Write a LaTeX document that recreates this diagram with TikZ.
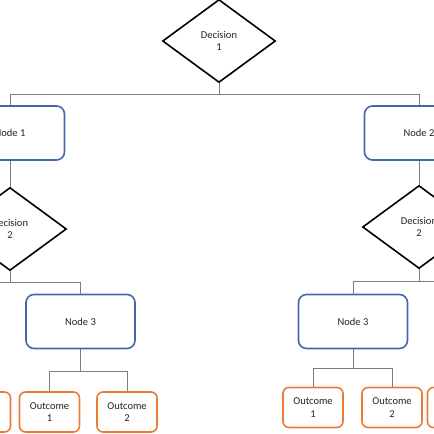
\documentclass[tikz,border=0pt]{standalone}
\usepackage{fontspec}
\setmainfont{Carlito}
\usetikzlibrary{shapes.geometric}
\definecolor{nodeblue}{RGB}{70,102,172}
\definecolor{outorange}{RGB}{233,124,52}
\definecolor{linkgray}{RGB}{125,125,125}
\definecolor{textdark}{RGB}{35,35,35}
\tikzset{
every node/.style={font=\fontsize{10.5}{12.5}\selectfont, text=textdark, align=center, inner sep=0pt},
decision/.style={diamond, draw=black, line width=1.6pt, minimum width=113pt, minimum height=83pt},
block/.style={rectangle, rounded corners=8pt, draw=nodeblue, line width=1.6pt, minimum width=109pt, minimum height=54pt},
outcome/.style={rectangle, rounded corners=6pt, draw=outorange, line width=1.6pt, minimum width=60pt, minimum height=40pt},
link/.style={draw=linkgray, line width=0.8pt}
}

\begin{document}
\begin{tikzpicture}[x=1pt,y=-1pt]
\useasboundingbox (0,0) rectangle (434,434);
\clip (0,0) rectangle (434,434);

\node [decision] (D1) at (219,41) {Decision\\1};
\node [block] (N1) at (10,133) {Node 1};
\node [block] (N2) at (419,133) {Node 2};
\node [decision] (D2L) at (10,229) {Decision\\2};
\node [decision] (D2R) at (419,227) {Decision\\2};
\node [block] (N3L) at (80.5,321.5) {Node 3};
\node [block] (N3R) at (353,321.5) {Node 3};
\node [outcome] (O0L) at (-19.5,412) {};
\node [outcome] (O1L) at (49.5,412) {Outcome\\1};
\node [outcome] (O2L) at (127,412) {Outcome\\2};
\node [outcome] (O1R) at (313,407.5) {Outcome\\1};
\node [outcome] (O2R) at (392,407.5) {Outcome\\2};
\node [outcome] (O3R) at (457.5,407.5) {};

% junctions
\coordinate (J1) at (219,94);
\coordinate (J2L) at (10,282);
\coordinate (X2L) at (-60,282);
\coordinate (J2R) at (419,281);
\coordinate (X2R) at (485,281);
\coordinate (J3L) at (80.5,371);
\coordinate (J3R) at (353,368);

\draw [link] (D1.south) -- (J1);
\draw [link] (J1) -| (N1.north);
\draw [link] (J1) -| (N2.north);
\draw [link] (N1.south) -- (D2L.north);
\draw [link] (N2.south) -- (D2R.north);
\draw [link] (D2L.south) -- (J2L);
\draw [link] (X2L) -| (N3L.north);
\draw [link] (D2R.south) -- (J2R);
\draw [link] (X2R) -| (N3R.north);
\draw [link] (N3L.south) -- (J3L);
\draw [link] (J3L) -| (O1L.north);
\draw [link] (J3L) -| (O2L.north);
\draw [link] (N3R.south) -- (J3R);
\draw [link] (J3R) -| (O1R.north);
\draw [link] (J3R) -| (O2R.north);
\end{tikzpicture}
\end{document}
